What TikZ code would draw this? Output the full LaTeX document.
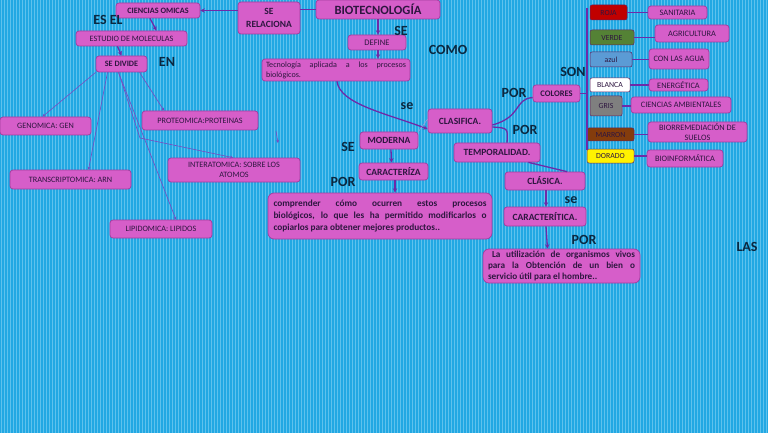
\documentclass[tikz,border=0pt]{standalone}
\usepackage{fontspec}
\setmainfont{Carlito}
\usetikzlibrary{arrows.meta}
\definecolor{bg}{HTML}{22A8E3}
\definecolor{gridc}{HTML}{86D4F5}
\definecolor{boxfill}{HTML}{D65EC9}
\definecolor{boxline}{HTML}{A23C9E}
\definecolor{boxtext}{HTML}{2E1640}
\definecolor{lbl}{HTML}{0B2840}
\definecolor{con}{HTML}{6E2AA8}
\definecolor{conl}{HTML}{7A48C0}
\definecolor{rojac}{HTML}{C00000}
\definecolor{verdec}{HTML}{548235}
\definecolor{azulc}{HTML}{5B9BD5}
\definecolor{grisc}{HTML}{7F7F7F}
\definecolor{marronc}{HTML}{843C0C}
\definecolor{doradoc}{HTML}{FFF200}
\tikzset{
  box/.style={draw=boxline, fill=boxfill, rounded corners=3pt, line width=0.7pt,
    text=boxtext, inner sep=1pt, align=center, font=\fontsize{8.2}{9.5}\selectfont},
  bx/.style args={#1x#2}{box, minimum width=#1pt, minimum height=#2pt},
  bold/.style={font=\bfseries\fontsize{9.5}{11}\selectfont},
  right/.style={font=\fontsize{8.3}{9.5}\selectfont},
  bigbox/.style={rounded corners=6pt},
  colbox/.style args={#1/#2x#3}{draw=boxline!60!black, fill=#1, rounded corners=2pt, line width=0.5pt,
    text=boxtext, inner sep=1pt, minimum width=#2pt, minimum height=#3pt, font=\fontsize{7.8}{9}\selectfont},
  lab/.style={text=lbl, font=\bfseries\fontsize{14}{15}\selectfont, inner sep=0pt},
  conn/.style={draw=con, line width=1.3pt},
  arr/.style={conn, -{Stealth[length=4.5pt,width=4.5pt]}},
  thinarr/.style={draw=conl, line width=0.6pt, -{Stealth[length=3pt,width=3pt]}},
}
\begin{document}
\begin{tikzpicture}[x=1pt,y=-1pt]
\fill[bg] (0,0) rectangle (768,433);
\begin{scope}
\clip (0,0) rectangle (768,433);
\draw[gridc, opacity=0.6, line width=0.7pt, step=3, shift={(1.5,1.5)}] (-6,-6) grid (771,436);
\end{scope}
\useasboundingbox (0,0) rectangle (768,433);

% ---- nodes ----
\node[bx=84x15, font=\bfseries\fontsize{8.2}{9.5}\selectfont] (omicas) at (158,10.5) {CIENCIAS OMICAS};
\node[bx=62x32, bold] (relac) at (269,18) {SE\\[2pt]RELACIONA};
\node[bx=124x19, font=\bfseries\fontsize{12.6}{14}\selectfont] (biotec) at (378,9.5) {BIOTECNOLOGÍA};
\node[bx=58x15, font=\fontsize{8.5}{9.5}\selectfont] (define) at (377,42.5) {DEFINE};
\node[bx=148x22, text width=140pt, align=justify, font=\fontsize{8.1}{10}\selectfont] (tecno) at (336,70) {Tecnología aplicada a los procesos\linebreak biológicos.};
\node[bx=111x15] (estudio) at (131.5,38.5) {ESTUDIO DE MOLECULAS};
\node[bx=51x16, font=\bfseries\fontsize{8.2}{9.5}\selectfont] (sedivide) at (121.5,64) {SE DIVIDE};
\node[bx=91x18] (genomica) at (45.5,126) {GENOMICA: GEN};
\node[bx=116x19] (proteo) at (200,120.5) {PROTEOMICA:PROTEINAS};
\node[bx=132x24, font=\fontsize{8.2}{10.5}\selectfont] (intera) at (234,170) {INTERATOMICA: SOBRE LOS\\ATOMOS};
\node[bx=121x19] (transc) at (70.5,179.5) {TRANSCRIPTOMICA: ARN};
\node[bx=102x18] (lipido) at (161,229) {LIPIDOMICA: LIPIDOS};
\node[bx=58x17, bold] (moderna) at (389,140.5) {MODERNA};
\node[bx=69x17, bold] (caract) at (393.5,171.5) {CARACTERÍZA};
\node[bx=224x46, bigbox, text width=213pt, align=justify, font=\bfseries\fontsize{9.3}{12}\selectfont] (compr) at (380,216) {comprender cómo ocurren estos procesos\linebreak biológicos, lo que les ha permitido modificarlos o\linebreak copiarlos para obtener mejores productos..};
\node[bx=64x24, bold] (clasifica) at (460,121) {CLASIFICA.};
\node[bx=47x17, font=\bfseries\fontsize{8.5}{9.5}\selectfont] (colores) at (556.5,93.5) {COLORES};
\node[bx=86x19, bold] (tempo) at (497,152.5) {TEMPORALIDAD.};
\node[bx=80x18, bold] (clasica) at (545,181) {CLÁSICA.};
\node[bx=82x19, bold] (caract2) at (545,216.5) {CARACTERÍTICA.};
\node[bx=157x34, bigbox, text width=147pt, align=justify, font=\bfseries\fontsize{9.2}{10.8}\selectfont] (utiliza) at (561.5,266) {\hspace{4pt}La utilización de organismos vivos\linebreak para la Obtención de un bien o\linebreak servicio útil para el hombre..};

% colour boxes
\node[colbox={rojac/37x15}] (roja) at (608.5,12.5) {ROJA};
\node[colbox={verdec/44x15}] (verde) at (612,37.5) {VERDE};
\node[colbox={azulc/42x15}] (azul) at (611,59.5) {azul};
\node[colbox={white/40x14}] (blanca) at (610,85) {BLANCA};
\node[colbox={grisc/32x20}] (gris) at (606,106) {GRIS};
\node[colbox={marronc/47x13}] (marron) at (610.5,134.5) {MARRON};
\node[colbox={doradoc/47x14}] (dorado) at (610.5,156) {DORADO};

\node[bx=59x13, right] (sanit) at (677.5,12.5) {SANITARIA};
\node[bx=74x17, right] (agri) at (692,33.5) {AGRICULTURA};
\node[bx=60x20, right] (agua) at (679,59) {CON LAS AGUA};
\node[bx=59x12, right] (energ) at (678.5,85) {ENERGÉTICA};
\node[bx=100x16, right] (ambient) at (681,105) {CIENCIAS AMBIENTALES};
\node[bx=99x20, font=\fontsize{8.3}{9.5}\selectfont] (biorr) at (697.5,132) {BIORREMEDIACIÓN DE\\SUELOS};
\node[bx=76x17, right] (bioinf) at (685,158.5) {BIOINFORMÁTICA};

% labels
\node[lab] (l1) at (108,20) {ES EL};
\node[lab] (l2) at (401,31) {SE};
\node[lab] (l3) at (448,50) {COMO};
\node[lab] (l4) at (167,62) {EN};
\node[lab] (l5) at (407,106) {se};
\node[lab] (l6) at (573,72) {SON};
\node[lab] (l7) at (514,93) {POR};
\node[lab] (l8) at (525,130) {POR};
\node[lab] (l9) at (348,147) {SE};
\node[lab] (l10) at (343,182) {POR};
\node[lab] (l11) at (571,200) {se};
\node[lab] (l12) at (584,240) {POR};
\node[lab] (l13) at (747,247) {LAS};

% ---- connectors ----
\draw[conn] (biotec.west) -- (relac.east |- biotec.west);
\draw[arr] (relac.west |- omicas.east) -- (omicas.east);
\draw[arr] ([xshift=-8pt]omicas.south) -- ([xshift=25pt]estudio.north);
\draw[arr] ([xshift=-14pt]estudio.south) -- (sedivide.north);
\draw[arr] (biotec.south) -- (define.north -| biotec.south);
\draw[arr] (define.south -| biotec.south) -- (tecno.north -| biotec.south);

\coordinate (br) at (140,138);
\draw[thinarr] (sedivide.south west) -- ([xshift=-3pt]genomica.north);
\draw[thinarr] ([xshift=-14pt]sedivide.south) -- ([xshift=18pt]transc.north);
\draw[thinarr] ([xshift=-3pt]sedivide.south) -- ([xshift=15pt]lipido.north);
\draw[draw=conl, line width=0.6pt] ([xshift=-3pt]sedivide.south) -- (br);
\draw[thinarr] (br) -- ([xshift=-1pt]intera.north);
\draw[thinarr] ([xshift=18pt]sedivide.south) -- ([xshift=-36pt]proteo.north);
\coordinate (st1) at (276,131);
\coordinate (st2) at (278,143);
\draw[thinarr] (st1) -- (st2);

\draw[arr] ([xshift=1pt]tecno.south) .. controls (340,104) and (385,113) .. ([yshift=-8pt]clasifica.west);
\draw[draw=conl!60!white, line width=0.5pt] ([yshift=2pt]clasifica.west) -- (moderna.north east);
\draw[conn] ([yshift=-4pt]clasifica.east) .. controls (522,117) and (514,99) .. ([yshift=-4pt]colores.west);
\draw[conn] ([yshift=-6pt]clasifica.east) .. controls (508,128) .. ([xshift=10pt]tempo.north);
\draw[conn] ([xshift=-12pt]tempo.south east) -- ([xshift=22pt]clasica.north);
\draw[arr] ([xshift=2pt]moderna.south) -- ([xshift=-2pt]caract.north);
\draw[arr] ([xshift=1.5pt]caract.south) -- ([xshift=15pt]compr.north);
\draw[arr] ([xshift=1pt]clasica.south) -- ([xshift=1pt]caract2.north);
\draw[arr] ([xshift=1pt]caract2.south) -- ([xshift=-14pt]utiliza.north);

% right column
\coordinate (vtop) at (587,8);
\coordinate (vbot) at (587,150);
\draw[conn] (vtop) -- (vbot);
\draw[conn] (colores.east) -- (colores.east -| vtop);
\draw[conn] (roja.east) -- (sanit.west |- roja.east);
\draw[conn] (verde.east) -- (agri.west |- verde.east);
\draw[conn] (azul.east) -- (agua.west |- azul.east);
\draw[conn] (blanca.east) -- (energ.west |- blanca.east);
\draw[conn] (gris.east) -- (ambient.west |- gris.east);
\draw[conn] (marron.east) -- (biorr.west |- marron.east);
\draw[conn] (dorado.east) -- (bioinf.west |- dorado.east);
\end{tikzpicture}
\end{document}
